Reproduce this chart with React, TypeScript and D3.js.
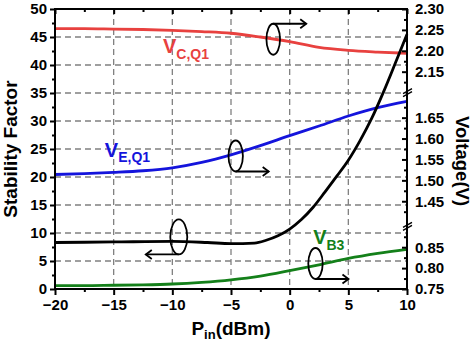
import { useEffect, useRef } from 'react';
import * as d3 from 'd3';

// stability factor sweep (left axis)
const pinStab = [-20, -15, -10, -7, -5, -3, -2, -1, 0, 1, 2, 3, 4, 5, 6, 7, 8, 9, 10];
const stability = [8.3, 8.4, 8.5, 8.3, 8.1, 8.2, 8.7, 9.5, 10.7, 12.4, 14.6, 17.3, 20.1, 23.0, 26.5, 30.5, 35.2, 40.3, 45.5];

// node voltages (right axis, volts)
const pinV = [-20, -17.5, -15, -12.5, -10, -7.5, -5, -2.5, 0, 2.5, 5, 7.5, 10];
const vcQ1 = [2.253, 2.253, 2.252, 2.251, 2.249, 2.246, 2.242, 2.233, 2.222, 2.208, 2.201, 2.197, 2.194];
const veQ1 = [1.514, 1.516, 1.519, 1.523, 1.53, 1.543, 1.561, 1.583, 1.607, 1.63, 1.654, 1.674, 1.689];
const vB3 = [0.758, 0.758, 0.759, 0.76, 0.762, 0.766, 0.772, 0.781, 0.794, 0.808, 0.823, 0.835, 0.845];

const xTicks = [-20, -15, -10, -5, 0, 5, 10];
const yTicks = [0, 5, 10, 15, 20, 25, 30, 35, 40, 45, 50];
// broken right axis: visible voltage windows, stacked bottom to top
const vSegments = [[0.75, 0.9], [1.39, 1.71], [2.1, 2.3]];
const vTicks = [0.75, 0.8, 0.85, 1.45, 1.5, 1.55, 1.6, 1.65, 2.15, 2.2, 2.25, 2.3];

const RED = '#e8413f';
const BLUE = '#1414dc';
const GREEN = '#14801a';
const FONT = '"Liberation Sans", Arial, Helvetica, sans-serif';

export default function App() {
  const svgRef = useRef<SVGSVGElement | null>(null);

  useEffect(() => {
    if (!svgRef.current) return;
    const W = 474, H = 343;
    const m = { top: 9, right: 67, bottom: 54, left: 55 };
    const x0 = m.left, x1 = W - m.right, y0 = H - m.bottom, y1 = m.top;

    const svg = d3.select(svgRef.current).attr('width', W).attr('height', H);
    svg.selectAll('*').remove();

    const x = d3.scaleLinear().domain([-20, 10]).range([x0, x1]);
    const y = d3.scaleLinear().domain([0, 50]).range([y0, y1]);

    // piecewise scale for the broken voltage axis
    const total = d3.sum(vSegments, s => s[1] - s[0]);
    const k = (y0 - y1) / total;
    const vDomain: number[] = [];
    const vRange: number[] = [];
    let acc = 0;
    vSegments.forEach(([a, b]) => {
      vDomain.push(a, b);
      vRange.push(y0 - acc * k, y0 - (acc + b - a) * k);
      acc += b - a;
    });
    const v = d3.scaleLinear().domain(vDomain).range(vRange);
    const breaks = vSegments.slice(0, -1).map(s => v(s[1]));

    const g = svg.append('g');

    // dashed grid
    g.selectAll('.gx').data(xTicks.slice(1, -1)).join('line')
      .attr('x1', d => x(d)).attr('x2', d => x(d)).attr('y1', y1).attr('y2', y0)
      .attr('stroke', '#808080').attr('stroke-width', 1.3).attr('stroke-dasharray', '6,4');
    g.selectAll('.gy').data(yTicks.slice(1, -1)).join('line')
      .attr('y1', d => y(d)).attr('y2', d => y(d)).attr('x1', x0).attr('x2', x1)
      .attr('stroke', '#808080').attr('stroke-width', 1.3).attr('stroke-dasharray', '6,4');

    // curves
    const line = d3.line<[number, number]>().curve(d3.curveMonotoneX);
    const series: [number[], number[], (n: number) => number, string][] = [
      [pinV, vcQ1, v, RED],
      [pinV, veQ1, v, BLUE],
      [pinV, vB3, v, GREEN],
      [pinStab, stability, y, '#000'],
    ];
    series.forEach(([xs, ys, sc, col]) => {
      g.append('path')
        .attr('d', line(xs.map((p, i) => [x(p), sc(ys[i])]))!)
        .attr('fill', 'none').attr('stroke', col).attr('stroke-width', 2.8);
    });

    const styleAxis = (sel: d3.Selection<SVGGElement, unknown, null, undefined>) => {
      sel.attr('font-family', FONT).attr('font-size', 15).attr('font-weight', 'bold');
      sel.select('.domain').remove();
      sel.selectAll('line').attr('stroke', '#000').attr('stroke-width', 2);
      sel.selectAll('text').attr('fill', '#000');
    };
    const minor = (ticks: number[]) => ticks.slice(0, -1).map((t, i) => (t + ticks[i + 1]) / 2);
    const vMinor = vSegments.flatMap(([a, b]) =>
      d3.range(Math.round(a * 40) + 1, Math.round(b * 40)).map(n => n / 40)
        .filter(t => !vTicks.some(tt => Math.abs(tt - t) < 1e-6)));

    // left axis
    g.append('g').attr('transform', `translate(${x0},0)`)
      .call(d3.axisLeft(y).tickValues(yTicks).tickSize(5).tickPadding(3)).call(styleAxis);
    g.append('g').attr('transform', `translate(${x0},0)`)
      .call(d3.axisLeft(y).tickValues(minor(yTicks)).tickSize(3).tickFormat(() => '')).call(styleAxis);
    // bottom axis
    g.append('g').attr('transform', `translate(0,${y0})`)
      .call(d3.axisBottom(x).tickValues(xTicks).tickSize(6).tickPadding(4)).call(styleAxis);
    g.append('g').attr('transform', `translate(0,${y0})`)
      .call(d3.axisBottom(x).tickValues(minor(xTicks)).tickSize(3).tickFormat(() => '')).call(styleAxis);
    // top axis, ticks inward
    g.append('g').attr('transform', `translate(0,${y1})`)
      .call(d3.axisTop(x).tickValues(xTicks).tickSize(-5).tickFormat(() => '')).call(styleAxis);
    g.append('g').attr('transform', `translate(0,${y1})`)
      .call(d3.axisTop(x).tickValues(minor(xTicks)).tickSize(-3).tickFormat(() => '')).call(styleAxis);
    // right voltage axis, ticks inward
    g.append('g').attr('transform', `translate(${x1},0)`)
      .call(d3.axisRight(v).tickValues(vTicks).tickSize(-5).tickPadding(8).tickFormat(d3.format('.2f'))).call(styleAxis);
    g.append('g').attr('transform', `translate(${x1},0)`)
      .call(d3.axisRight(v).tickValues(vMinor).tickSize(-3).tickFormat(() => '')).call(styleAxis);

    // frame
    g.append('rect').attr('x', x0).attr('y', y1).attr('width', x1 - x0).attr('height', y0 - y1)
      .attr('fill', 'none').attr('stroke', '#000').attr('stroke-width', 2);

    // break marks on the voltage axis
    breaks.forEach(by => {
      [-1.5, 1.5].forEach(off => {
        g.append('line')
          .attr('x1', x1 - 4).attr('y1', by + off + 2.5)
          .attr('x2', x1 + 5).attr('y2', by + off - 2.5)
          .attr('stroke', '#000').attr('stroke-width', 1.4);
      });
    });

    // axis titles
    g.append('text').attr('transform', `translate(17,${(y0 + y1) / 2}) rotate(-90)`)
      .attr('text-anchor', 'middle').attr('font-family', FONT).attr('font-size', 19).attr('font-weight', 'bold')
      .text('Stability Factor');
    g.append('text').attr('transform', `translate(456,161) rotate(90)`)
      .attr('text-anchor', 'middle').attr('font-family', FONT).attr('font-size', 18.5).attr('font-weight', 'bold')
      .text('Voltage(V)');
    const xt = g.append('text').attr('x', (x0 + x1) / 2).attr('y', 335)
      .attr('text-anchor', 'middle').attr('font-family', FONT).attr('font-size', 19).attr('font-weight', 'bold');
    xt.append('tspan').text('P');
    xt.append('tspan').attr('font-size', 13).attr('dy', 4).text('in');
    xt.append('tspan').attr('dy', -4).text('(dBm)');

    // series labels
    const labels: [number, number, string, string, number][] = [
      [-10.8, 42.1, 'C,Q1', RED, 6],
      [-15.75, 23.6, 'E,Q1', BLUE, 5],
      [2.0, 8.1, 'B3', GREEN, 6],
    ];
    labels.forEach(([px, py, sub, col, dy]) => {
      const t = g.append('text').attr('x', x(px)).attr('y', y(py))
        .attr('font-family', FONT).attr('font-weight', 'bold').attr('fill', col);
      t.append('tspan').attr('font-size', 20).text('V');
      t.append('tspan').attr('font-size', 14).attr('dy', dy).text(sub);
    });

    // axis markers: ellipse around a curve with an arrow toward its axis
    const markers: [number, number, number, number, 'top' | 'bottom', number][] = [
      [-1.4, 44.6, 6.8, 15.5, 'top', 1],
      [-4.6, 23.75, 7.2, 15.5, 'bottom', 1],
      [-9.45, 9.3, 8.5, 17.5, 'bottom', -1],
      [2.2, 4.55, 7.2, 15.5, 'bottom', 1],
    ];
    markers.forEach(([px, py, rx, ry, side, dir]) => {
      const cx = x(px), cy = y(py);
      g.append('ellipse').attr('cx', cx).attr('cy', cy).attr('rx', rx).attr('ry', ry)
        .attr('fill', 'none').attr('stroke', '#000').attr('stroke-width', 1.8);
      const ay = side === 'top' ? cy - ry : cy + ry;
      const ax = cx + dir * 33;
      g.append('line').attr('x1', cx).attr('y1', ay).attr('x2', ax).attr('y2', ay)
        .attr('stroke', '#000').attr('stroke-width', 1.8);
      g.append('path')
        .attr('d', `M${ax - dir * 6},${ay - 4.5}L${ax},${ay}L${ax - dir * 6},${ay + 4.5}`)
        .attr('fill', 'none').attr('stroke', '#000').attr('stroke-width', 1.8);
    });
  }, []);

  return <svg ref={svgRef} style={{ position: 'absolute', left: 0, top: 0, background: '#fff' }}></svg>;
}
